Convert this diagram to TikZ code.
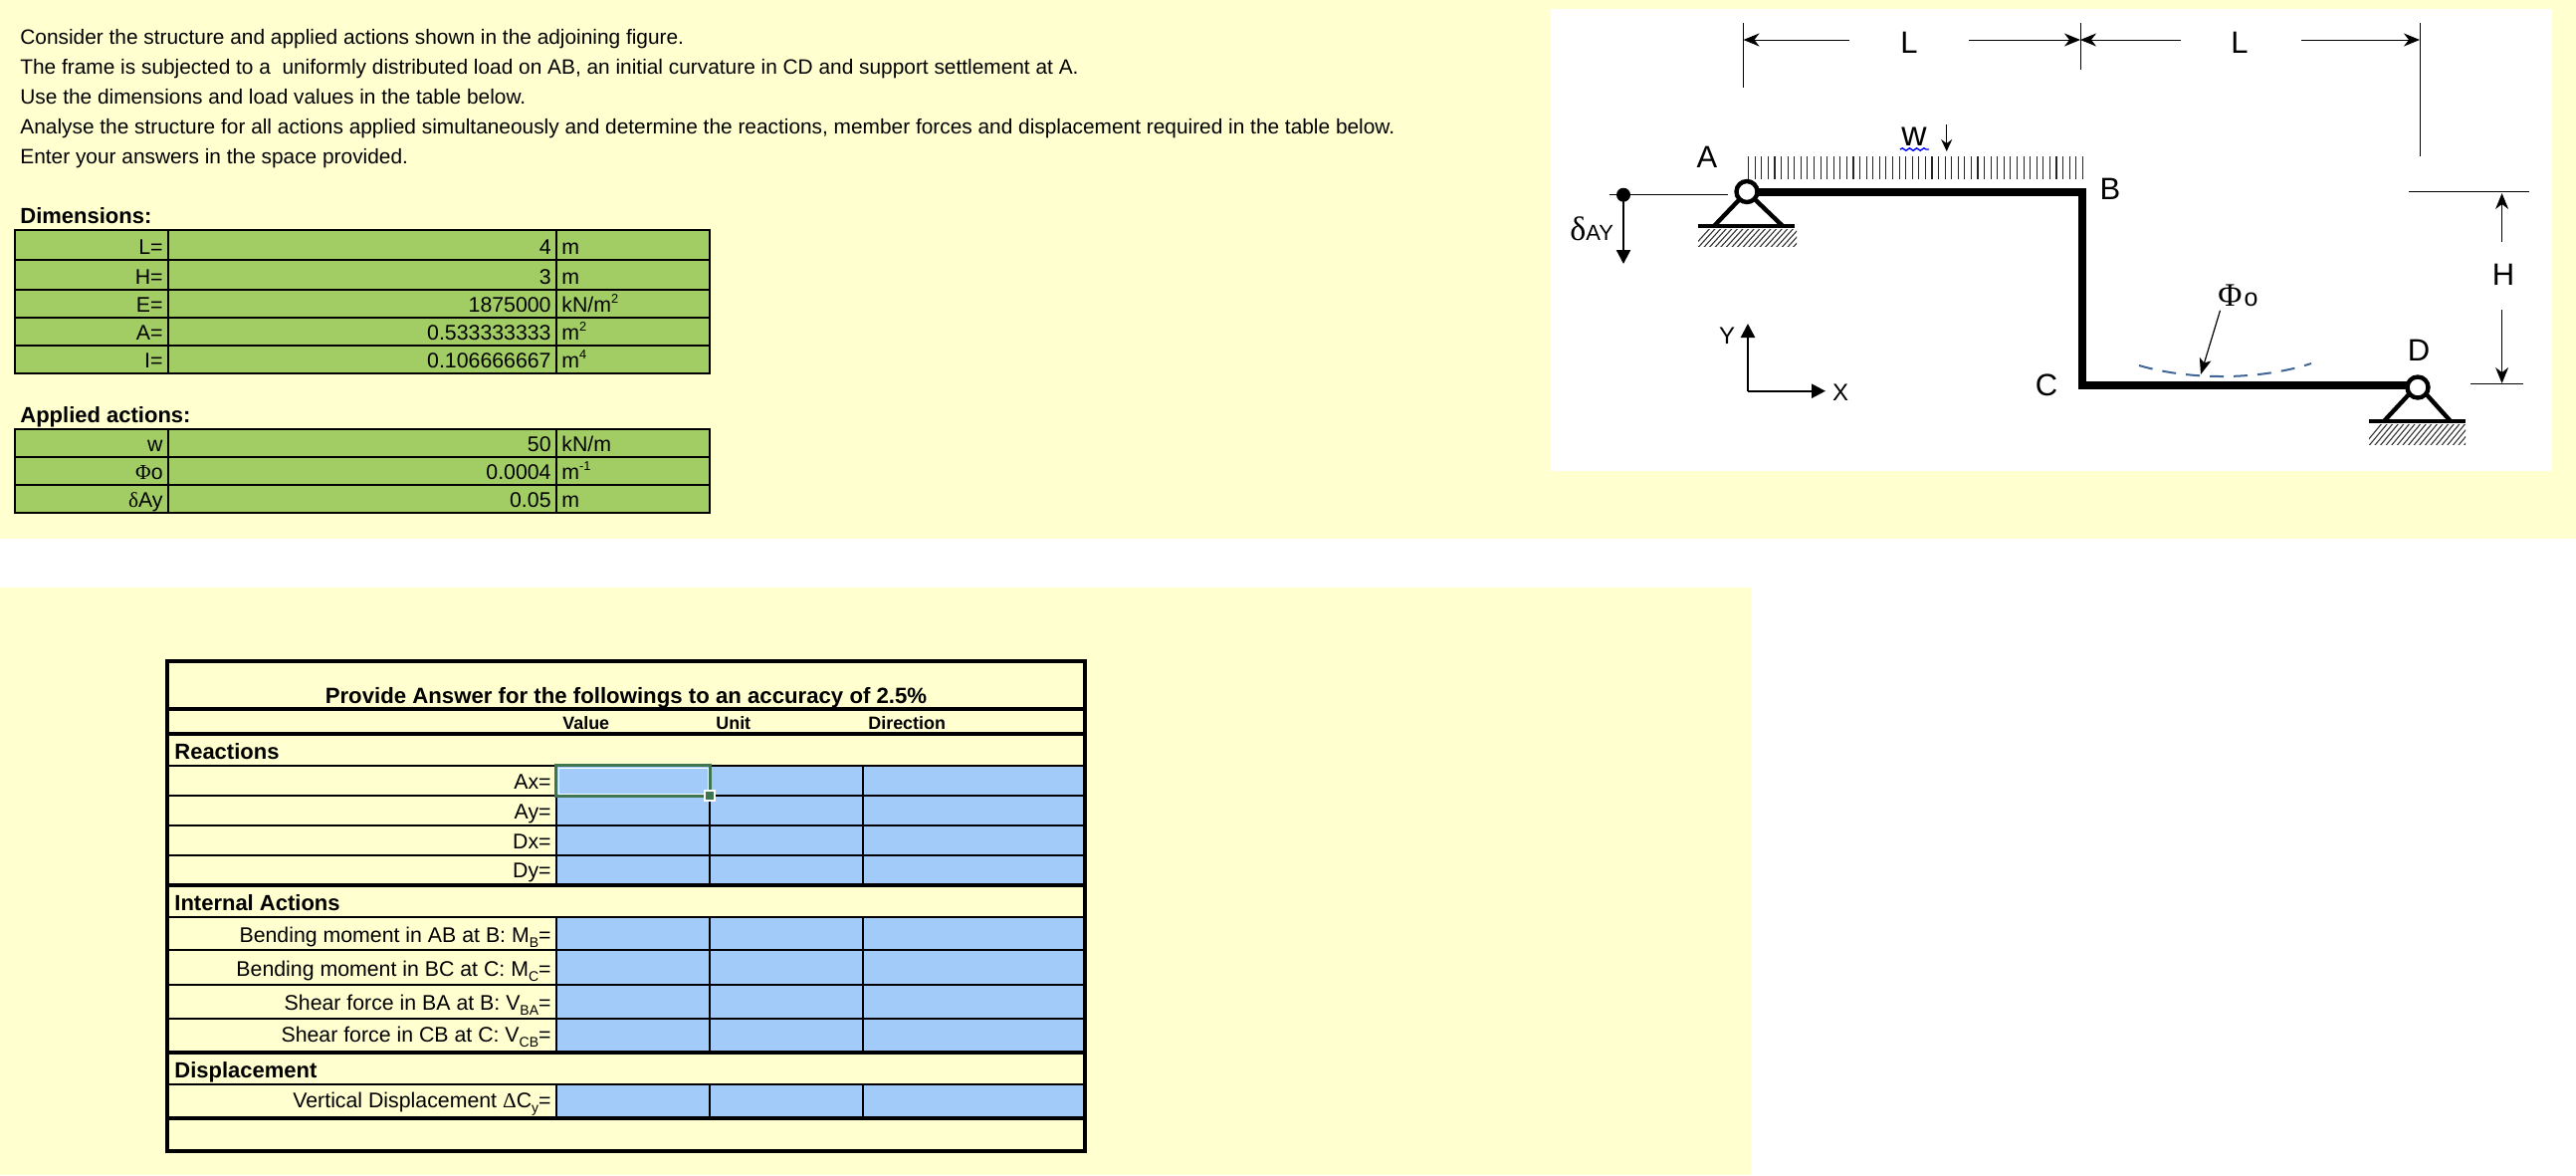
\documentclass[tikz,border=0pt]{standalone}
\usepackage{fontspec}
\setmainfont{Liberation Sans}
\newfontfamily\serifgreek{Liberation Serif}
\usetikzlibrary{arrows.meta,decorations.pathmorphing}
\definecolor{panel}{HTML}{FFFFD0}
\definecolor{tgreen}{HTML}{A2CD64}
\definecolor{tblue}{HTML}{A2CBF9}
\definecolor{selgreen}{HTML}{3F7650}
\definecolor{curve}{HTML}{3F6697}
\newcommand{\lowsub}[1]{\raisebox{-0.25em}{\fontsize{7}{8}\selectfont #1}}
\newcommand{\hisup}[1]{\raisebox{0.42em}{\fontsize{6.4}{8}\selectfont #1}}
\tikzset{
 x=0.5pt,y=-0.5pt,
 txt/.style={inner sep=0pt,anchor=base west,font=\fontsize{10.43}{12}\selectfont},
 txtb/.style={txt,font=\fontsize{11}{12}\selectfont\bfseries},
 cellr/.style={inner sep=0pt,anchor=base east,font=\fontsize{10.65}{12}\selectfont},
 celll/.style={inner sep=0pt,anchor=base west,font=\fontsize{10.65}{12}\selectfont},
 hdr/.style={inner sep=0pt,anchor=base west,font=\fontsize{8.95}{10}\selectfont\bfseries},
 big/.style={inner sep=0pt,anchor=base,font=\fontsize{15.5}{18}\selectfont},
 small/.style={inner sep=0pt,anchor=base,font=\fontsize{12}{14}\selectfont},
 thinrule/.style={line width=0.85pt},
 thickrule/.style={line width=1.7pt},
 member/.style={line width=4pt,line join=miter},
 pinleg/.style={line width=2.2pt},
 pinbase/.style={line width=2pt},
 pinball/.style={circle,draw,fill=white,line width=2.2pt,minimum size=10.5pt,inner sep=0pt},
 hatchline/.style={line width=0.55pt,black!80},
 dimline/.style={line width=0.5pt},
 dimarrow/.style={dimline,-{Stealth[length=8pt,width=6.5pt,inset=2.5pt]}},
 axisarrow/.style={line width=1.2pt,-{Triangle[length=7pt,width=7pt]}},
}
\begin{document}
\begin{tikzpicture}
\useasboundingbox (0,0) rectangle (2588,1180);
\fill[white] (0,0) rectangle (2588,1180);
\fill[panel] (0,0) rectangle (2588,541);
\fill[panel] (0,590) rectangle (1759,1180);
\fill[white] (1558,9) rectangle (2564,473);

% intro text
\node[txt] (t1) at (20,44) {Consider the structure and applied actions shown in the adjoining figure.};
\node[txt] (t2) at (20,74) {The frame is subjected to a\ \ uniformly distributed load on AB, an initial curvature in CD and support settlement at A.};
\node[txt] (t3) at (20,104) {Use the dimensions and load values in the table below.};
\node[txt] (t4) at (20,134) {Analyse the structure for all actions applied simultaneously and determine the reactions, member forces and displacement required in the table below.};
\node[txt] (t5) at (20,164) {Enter your answers in the space provided.};

% dimensions table
\node[txtb] (dimh) at (20,224) {Dimensions:};
\fill[tgreen] (15,231) rectangle (713,375);
\foreach \yy in {261,291,319,347} \draw[thinrule] (15,\yy) -- (713,\yy);
\foreach \xx in {169,559} \draw[thinrule] (\xx,231) -- (\xx,375);
\draw[line width=1pt] (15,231) rectangle (713,375);
\node[cellr] (d1a) at (164,255) {L=};   \node[cellr] (d1b) at (554,255) {4};          \node[celll] (d1c) at (564,255) {m};
\node[cellr] (d2a) at (164,285) {H=};   \node[cellr] (d2b) at (554,285) {3};          \node[celll] (d2c) at (564,285) {m};
\node[cellr] (d3a) at (164,313) {E=};   \node[cellr] (d3b) at (554,313) {1875000};    \node[celll] (d3c) at (564,313) {kN/m\hisup{2}};
\node[cellr] (d4a) at (164,341) {A=};   \node[cellr] (d4b) at (554,341) {0.533333333};\node[celll] (d4c) at (564,341) {m\hisup{2}};
\node[cellr] (d5a) at (164,369) {I=};   \node[cellr] (d5b) at (554,369) {0.106666667};\node[celll] (d5c) at (564,369) {m\hisup{4}};

% actions table
\node[txtb] (acth) at (20,424) {Applied actions:};
\fill[tgreen] (15,431) rectangle (713,515);
\foreach \yy in {459,487} \draw[thinrule] (15,\yy) -- (713,\yy);
\foreach \xx in {169,559} \draw[thinrule] (\xx,431) -- (\xx,515);
\draw[line width=1pt] (15,431) rectangle (713,515);
\node[cellr] (a1a) at (164,453) {w};   \node[cellr] (a1b) at (554,453) {50};     \node[celll] (a1c) at (564,453) {kN/m};
\node[cellr] (a2a) at (164,481) {{\serifgreek Φ}o};  \node[cellr] (a2b) at (554,481) {0.0004}; \node[celll] (a2c) at (564,481) {m\hisup{-1}};
\node[cellr] (a3a) at (164,509) {{\serifgreek δ}Ay}; \node[cellr] (a3b) at (554,509) {0.05};   \node[celll] (a3c) at (564,509) {m};

% answer table
\fill[tblue] (559,769) rectangle (1090,889);
\fill[tblue] (559,921) rectangle (1090,1057);
\fill[tblue] (559,1089) rectangle (1090,1123);
\foreach \yy in {769,799,829,859,921,954,989,1023,1089} \draw[thinrule] (168,\yy) -- (1090,\yy);
\foreach \xx in {559,713,867} {
  \draw[thinrule] (\xx,769) -- (\xx,889);
  \draw[thinrule] (\xx,921) -- (\xx,1057);
  \draw[thinrule] (\xx,1089) -- (\xx,1123);
}
\foreach \yy in {712,737,889,1057,1123} \draw[thickrule] (168,\yy) -- (1090,\yy);
\draw[line width=1.9pt] (168,664) rectangle (1090,1156);

\node[inner sep=0pt,anchor=base,font=\fontsize{11.1}{12}\selectfont\bfseries] (title) at (629,706) {Provide Answer for the followings to an accuracy of 2.5\%};
\node[hdr] (hv) at (565,732) {Value};
\node[hdr] (hu) at (719,732) {Unit};
\node[hdr] (hd) at (872,732) {Direction};
\node[txtb] (sec1) at (175,762) {Reactions};
\node[txtb] (sec2) at (175,914) {Internal Actions};
\node[txtb] (sec3) at (175,1082) {Displacement};
\node[cellr] (r1) at (554,792) {Ax=};
\node[cellr] (r2) at (554,822) {Ay=};
\node[cellr] (r3) at (554,852) {Dx=};
\node[cellr] (r4) at (554,881) {Dy=};
\node[cellr] (i1) at (554,946) {Bending moment in AB at B: M\lowsub{B}=};
\node[cellr] (i2) at (554,980) {Bending moment in BC at C: M\lowsub{C}=};
\node[cellr] (i3) at (554,1014) {Shear force in BA at B: V\lowsub{BA}=};
\node[cellr] (i4) at (554,1046) {Shear force in CB at C: V\lowsub{CB}=};
\node[cellr] (v1) at (554,1112) {Vertical Displacement {\serifgreek Δ}C\lowsub{y}=};

% selected cell
\draw[white,line width=0.5pt] (561,771) rectangle (711,797);
\draw[selgreen,line width=1.4pt] (558.5,768.5) rectangle (713.5,799.5);
\fill[white] (707,793) rectangle (719,805);
\fill[selgreen] (709,795) rectangle (717,803);

% ---- figure ----
\coordinate (A) at (1755,192.5);
\coordinate (B) at (2092,192.5);
\coordinate (C) at (2092,386.5);
\coordinate (D) at (2429,386.5);

% load bars
\foreach \i in {0,...,51} \draw[line width=0.55pt,black!85] ({1756.7+\i*6.58},157) -- ({1756.7+\i*6.58},180);

% supports
\draw[pinleg] (A) -- (1722,227);
\draw[pinleg] (A) -- (1791,227);
\draw[pinbase] (1706,227) -- (1803,227);
\begin{scope}
 \clip (1706,230) rectangle (1805,247);
 \foreach \i in {0,...,22} \draw[hatchline] ({1700+\i*5.6},249) -- ({1720+\i*5.6},227);
\end{scope}
\draw[pinleg] (D) -- (2395,423);
\draw[pinleg] (D) -- (2462,423);
\draw[pinbase] (2380,423) -- (2477,423);
\begin{scope}
 \clip (2380,426) rectangle (2477,446);
 \foreach \i in {0,...,22} \draw[hatchline] ({2374+\i*5.6},448) -- ({2394+\i*5.6},424);
\end{scope}

% frame
\draw[member] (A) -- (B) -- (C) -- (D);
\node[pinball] (pinA) at (A) {};
\node[pinball] (pinD) at (2429,389) {};

% labels
\node[big] (lA) at (1715,168) {A};
\node[big] (lB) at (2120,200) {B};
\node[big] (lC) at (2056,397) {C};
\node[big] (lD) at (2430,362) {D};

% L dimensions
\coordinate (x0) at (1751.5,40);
\coordinate (x1) at (2090,40);
\coordinate (x2) at (2431,40);
\draw[dimline] (1751.5,23) -- (1751.5,88);
\draw[dimline] (2090,23) -- (2090,70);
\draw[dimline] (2431,23) -- (2431,157);
\node[big] (L1) at (1918,53) {L};
\node[big] (L2) at (2250,53) {L};
\coordinate (g1a) at (1858,40);
\coordinate (g1b) at (1978,40);
\coordinate (g2a) at (2191,40);
\coordinate (g2b) at (2312,40);
\draw[dimarrow] (g1a) -- (x0);
\draw[dimarrow] (g1b) -- (x1);
\draw[dimarrow] (g2a) -- (x1);
\draw[dimarrow] (g2b) -- (x2);

% H dimension
\draw[dimline] (2420,192.7) -- (2540.5,192.7);
\draw[dimline] (2482,385) -- (2534.5,385);
\node[big] (H) at (2515,286) {H};
\coordinate (h0) at (2513.6,243);
\coordinate (h1) at (2513.6,194);
\coordinate (h2) at (2513.6,311);
\coordinate (h3) at (2513.6,385);
\draw[dimarrow] (h0) -- (h1);
\draw[dimarrow] (h2) -- (h3);

% w
\node[inner sep=0pt,anchor=base,font=\fontsize{17.5}{20}\selectfont] (w) at (1923,146) {w};
\draw[blue,line width=0.7pt,decorate,decoration={snake,amplitude=0.6pt,segment length=3.6pt}] (1909,150) -- (1938,150);
\coordinate (w0) at (1955.7,125);
\coordinate (w1) at (1955.7,152);
\draw[line width=0.7pt,-{Stealth[length=6pt,width=5.5pt,inset=2pt]}] (w0) -- (w1);

% settlement
\coordinate (s0) at (1616.5,195.7);
\coordinate (s1) at (1736,195.7);
\coordinate (sd) at (1631,195.7);
\coordinate (se) at (1631,265);
\draw[dimline] (s0) -- (s1);
\fill (sd) circle[radius=7];
\draw[axisarrow] (sd) -- (se);
\node[inner sep=0pt,anchor=base west] (dAY) at (1577,241) {{\serifgreek\fontsize{17}{18}\selectfont δ}{\fontsize{11}{14}\selectfont AY}};

% axes
\coordinate (o) at (1756,392.7);
\coordinate (oy) at (1756,325);
\coordinate (ox) at (1834,392.7);
\draw[axisarrow] (o) -- (oy);
\draw[axisarrow] (o) -- (ox);
\node[small] (Y) at (1735,345) {Y};
\node[small] (X) at (1849,402) {X};

% initial curvature
\draw[curve,line width=1pt,dash pattern=on 7pt off 5pt] (2149,367) .. controls (2200,382) and (2270,382) .. (2322,365);
\node[inner sep=0pt,anchor=base west] (phi) at (2228,307) {{\serifgreek\fontsize{16.5}{18}\selectfont Φ}\hspace{1pt}{\fontsize{12.5}{14}\selectfont o}};
\coordinate (p0) at (2230.5,311.7);
\coordinate (p1) at (2211,376);
\draw[line width=0.6pt,-{Stealth[length=8pt,width=6pt,inset=2pt]}] (p0) -- (p1);
\end{tikzpicture}
\end{document}
